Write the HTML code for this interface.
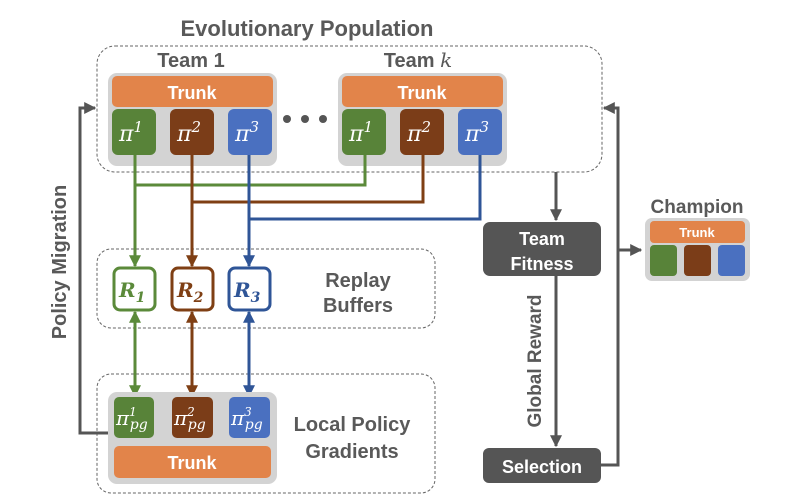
<!DOCTYPE html>
<html><head><meta charset="utf-8"><style>
html,body{margin:0;padding:0;background:#fff;width:800px;height:500px;overflow:hidden}
svg text{font-family:"Liberation Sans",sans-serif;font-weight:bold}
svg text.m,svg tspan.m{font-family:"DejaVu Serif","Liberation Serif",serif;font-style:italic;font-weight:normal}
svg text.mb{font-family:"DejaVu Serif","Liberation Serif",serif;font-style:italic;font-weight:bold}
</style></head><body>
<svg width="800" height="500" viewBox="0 0 800 500" xmlns="http://www.w3.org/2000/svg">
<defs>
<marker id="ag" viewBox="0 0 10 10" refX="9" refY="5" markerWidth="4" markerHeight="4" orient="auto-start-reverse"><path d="M0,0L10,5L0,10z" fill="#5b8a3a"/></marker>
<marker id="ab" viewBox="0 0 10 10" refX="9" refY="5" markerWidth="4" markerHeight="4" orient="auto-start-reverse"><path d="M0,0L10,5L0,10z" fill="#7f3f14"/></marker>
<marker id="au" viewBox="0 0 10 10" refX="9" refY="5" markerWidth="4" markerHeight="4" orient="auto-start-reverse"><path d="M0,0L10,5L0,10z" fill="#2f5597"/></marker>
<marker id="ad" viewBox="0 0 10 10" refX="9" refY="5" markerWidth="4" markerHeight="4" orient="auto-start-reverse"><path d="M0,0L10,5L0,10z" fill="#555"/></marker>
</defs>
<rect x="97" y="46" width="505" height="126" rx="18" fill="none" stroke="#666" stroke-width="1" stroke-dasharray="3,2"/>
<rect x="97" y="249" width="338" height="79" rx="14" fill="none" stroke="#666" stroke-width="1" stroke-dasharray="3,2"/>
<rect x="97" y="374" width="338" height="119" rx="14" fill="none" stroke="#666" stroke-width="1" stroke-dasharray="3,2"/>
<text x="307" y="36" font-size="22" fill="#595959" text-anchor="middle">Evolutionary Population</text>
<text x="191" y="67" font-size="20" fill="#595959" text-anchor="middle">Team 1</text>
<text x="418" y="67" font-size="20" fill="#595959" text-anchor="middle">Team <tspan class="m">k</tspan></text>
<rect x="108" y="73" width="169" height="93" rx="9" fill="#d3d3d3"/>
<rect x="112" y="76" width="161" height="31" rx="5" fill="#e2844a"/>
<text x="192" y="99" font-size="18" fill="#fff" text-anchor="middle">Trunk</text>
<rect x="112" y="109" width="44" height="46" rx="6" fill="#588339"/>
<rect x="170" y="109" width="44" height="46" rx="6" fill="#7b3d18"/>
<rect x="228" y="109" width="44" height="46" rx="6" fill="#4a70c0"/>
<rect x="338" y="73" width="169" height="93" rx="9" fill="#d3d3d3"/>
<rect x="342" y="76" width="161" height="31" rx="5" fill="#e2844a"/>
<text x="422" y="99" font-size="18" fill="#fff" text-anchor="middle">Trunk</text>
<rect x="342" y="109" width="44" height="46" rx="6" fill="#588339"/>
<rect x="400" y="109" width="44" height="46" rx="6" fill="#7b3d18"/>
<rect x="458" y="109" width="44" height="46" rx="6" fill="#4a70c0"/>
<g font-size="22" fill="#fff">
<text class="m" x="119" y="141">π<tspan font-size="15" dy="-9">1</tspan></text>
<text class="m" x="177" y="141">π<tspan font-size="15" dy="-9">2</tspan></text>
<text class="m" x="235" y="141">π<tspan font-size="15" dy="-9">3</tspan></text>
<text class="m" x="349" y="141">π<tspan font-size="15" dy="-9">1</tspan></text>
<text class="m" x="407" y="141">π<tspan font-size="15" dy="-9">2</tspan></text>
<text class="m" x="465" y="141">π<tspan font-size="15" dy="-9">3</tspan></text>
</g>
<circle cx="287" cy="119" r="4" fill="#555"/><circle cx="305" cy="119" r="4" fill="#555"/><circle cx="323" cy="119" r="4" fill="#555"/>
<g fill="none" stroke-width="3">
<path d="M135,155V266" stroke="#5b8a3a" marker-end="url(#ag)"/>
<path d="M365,155V185H135" stroke="#5b8a3a"/>
<path d="M192,155V266" stroke="#7f3f14" marker-end="url(#ab)"/>
<path d="M423,155V202H192" stroke="#7f3f14"/>
<path d="M249,155V266" stroke="#2f5597" marker-end="url(#au)"/>
<path d="M480,155V219H249" stroke="#2f5597"/>
<path d="M135,312V396" stroke="#5b8a3a" marker-start="url(#ag)" marker-end="url(#ag)"/>
<path d="M192,312V396" stroke="#7f3f14" marker-start="url(#ab)" marker-end="url(#ab)"/>
<path d="M249,312V396" stroke="#2f5597" marker-start="url(#au)" marker-end="url(#au)"/>
</g>
<rect x="114" y="268" width="41" height="42" rx="6" fill="#fff" stroke="#5b8a3a" stroke-width="3"/>
<rect x="172" y="268" width="41" height="42" rx="6" fill="#fff" stroke="#7f3f14" stroke-width="3"/>
<rect x="229" y="268" width="41" height="42" rx="6" fill="#fff" stroke="#2f5597" stroke-width="3"/>
<g font-size="20">
<text class="mb" x="119" y="297" fill="#5b8a3a">R<tspan font-size="14" dy="5">1</tspan></text>
<text class="mb" x="177" y="297" fill="#7f3f14">R<tspan font-size="14" dy="5">2</tspan></text>
<text class="mb" x="234" y="297" fill="#2f5597">R<tspan font-size="14" dy="5">3</tspan></text>
</g>
<text x="358" y="287" font-size="20" fill="#595959" text-anchor="middle">Replay</text>
<text x="358" y="312" font-size="20" fill="#595959" text-anchor="middle">Buffers</text>
<rect x="108" y="392" width="169" height="92" rx="9" fill="#d3d3d3"/>
<rect x="114" y="397" width="40" height="41" rx="5" fill="#588339"/>
<rect x="172" y="397" width="41" height="41" rx="5" fill="#7b3d18"/>
<rect x="229" y="397" width="41" height="41" rx="5" fill="#4a70c0"/>
<rect x="114" y="446" width="157" height="32" rx="5" fill="#e2844a"/>
<text x="192" y="469" font-size="18" fill="#fff" text-anchor="middle">Trunk</text>
<g font-size="20" fill="#fff">
<text class="m" x="116" y="425">π<tspan font-size="12" dy="-9">1</tspan><tspan font-size="14" dx="-7" dy="13">pg</tspan></text>
<text class="m" x="174" y="425">π<tspan font-size="12" dy="-9">2</tspan><tspan font-size="14" dx="-7" dy="13">pg</tspan></text>
<text class="m" x="231" y="425">π<tspan font-size="12" dy="-9">3</tspan><tspan font-size="14" dx="-7" dy="13">pg</tspan></text>
</g>
<text x="352" y="431" font-size="20" fill="#595959" text-anchor="middle">Local Policy</text>
<text x="352" y="458" font-size="20" fill="#595959" text-anchor="middle">Gradients</text>
<path d="M108,433H80V108H95" fill="none" stroke="#555" stroke-width="3" marker-end="url(#ad)"/>
<text transform="translate(66,262) rotate(-90)" font-size="20" fill="#595959" text-anchor="middle">Policy Migration</text>
<path d="M556,172V220" fill="none" stroke="#555" stroke-width="3" marker-end="url(#ad)"/>
<rect x="483" y="222" width="118" height="54" rx="7" fill="#555"/>
<text x="542" y="245" font-size="18" fill="#fff" text-anchor="middle">Team</text>
<text x="542" y="270" font-size="18" fill="#fff" text-anchor="middle">Fitness</text>
<path d="M556,276V446" fill="none" stroke="#555" stroke-width="3" marker-end="url(#ad)"/>
<text transform="translate(541,361) rotate(-90)" font-size="19" fill="#595959" text-anchor="middle">Global Reward</text>
<rect x="483" y="448" width="118" height="35" rx="6" fill="#555"/>
<text x="542" y="473" font-size="18" fill="#fff" text-anchor="middle">Selection</text>
<path d="M601,465H618V108H604" fill="none" stroke="#555" stroke-width="3" marker-end="url(#ad)"/>
<path d="M618,250H641" fill="none" stroke="#555" stroke-width="3" marker-end="url(#ad)"/>
<text x="697" y="213" font-size="19" fill="#595959" text-anchor="middle">Champion</text>
<rect x="645" y="218" width="105" height="63" rx="7" fill="#d3d3d3"/>
<rect x="650" y="221" width="95" height="22" rx="4" fill="#e2844a"/>
<text x="697" y="237" font-size="13" fill="#fff" text-anchor="middle">Trunk</text>
<rect x="650" y="245" width="27" height="31" rx="4" fill="#588339"/>
<rect x="684" y="245" width="27" height="31" rx="4" fill="#7b3d18"/>
<rect x="718" y="245" width="27" height="31" rx="4" fill="#4a70c0"/>
</svg>
</body></html>
